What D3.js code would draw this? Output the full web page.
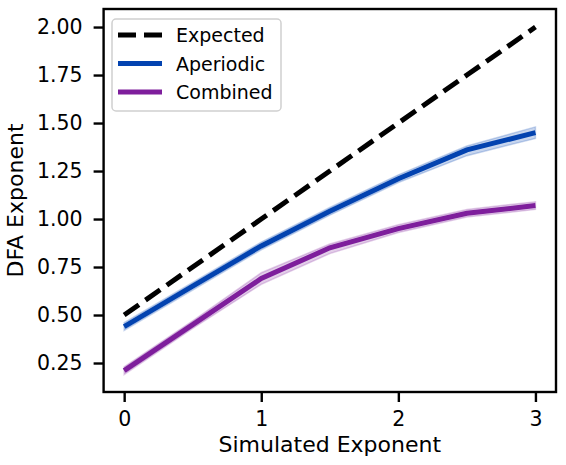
<!DOCTYPE html>
<html>
<head>
<meta charset="utf-8">
<script src="https://cdn.jsdelivr.net/npm/d3@7"></script>
<style>
  body { margin: 0; background: #fff; }
  text { font-family: "DejaVu Sans", sans-serif; fill: #000; }
</style>
</head>
<body>
<svg id="chart" width="566" height="465"></svg>
<script>
// simulated exponents on the x axis
const simExp = [0, 0.5, 1, 1.5, 2, 2.5, 3]
const expected = [0.5, 0.75, 1.0, 1.25, 1.5, 1.75, 2.0]
const aperiodic = [0.44, 0.65, 0.86, 1.04, 1.21, 1.36, 1.45]
const aperiodicLo = [0.42, 0.63, 0.84, 1.02, 1.19, 1.33, 1.42]
const aperiodicHi = [0.46, 0.67, 0.88, 1.06, 1.23, 1.38, 1.48]
const combined = [0.21, 0.45, 0.69, 0.85, 0.95, 1.03, 1.07]
const combinedLo = [0.19, 0.43, 0.66, 0.82, 0.93, 1.01, 1.05]
const combinedHi = [0.23, 0.47, 0.72, 0.87, 0.97, 1.05, 1.09]
const xTicks = [0, 1, 2, 3]
const yTicks = [0.25, 0.5, 0.75, 1.0, 1.25, 1.5, 1.75, 2.0]

const blue = '#0343b0'
const purple = '#7e1e9c'

const svg = d3.select('#chart')
const axLeft = 103.6, axRight = 556, axTop = 9, axBottom = 392

const x = d3.scaleLinear().domain([-0.15, 3.15]).range([axLeft, axRight])
const y = d3.scaleLinear().domain([0.099, 2.094]).range([axBottom, axTop])

// bands first so the lines sit on top
function band(lo, hi, color) {
    const area = d3.area()
        .x((d, i) => x(simExp[i]))
        .y0((d, i) => y(lo[i]))
        .y1((d, i) => y(hi[i]))
    svg.append('path')
        .attr('d', area(lo))
        .attr('fill', color)
        .attr('fill-opacity', 0.22)
        .attr('stroke', color)
        .attr('stroke-opacity', 0.22)
        .attr('stroke-width', 1.5)
}

function line(vals, color, dash) {
    const l = d3.line()
        .x((d, i) => x(simExp[i]))
        .y(d => y(d))
    svg.append('path')
        .attr('d', l(vals))
        .attr('fill', 'none')
        .attr('stroke', color)
        .attr('stroke-width', 5)
        .attr('stroke-dasharray', dash || null)
}

band(aperiodicLo, aperiodicHi, blue)
band(combinedLo, combinedHi, purple)
line(expected, '#000', '18,8')
line(aperiodic, blue)
line(combined, purple)

// axes
const xAxis = svg.append('g')
    .attr('transform', `translate(0,${axBottom})`)
    .call(d3.axisBottom(x).tickValues(xTicks).tickFormat(d3.format('d')).tickSizeOuter(0).tickSize(10).tickPadding(9))
const yAxis = svg.append('g')
    .attr('transform', `translate(${axLeft},0)`)
    .call(d3.axisLeft(y).tickValues(yTicks).tickFormat(d3.format('.2f')).tickSizeOuter(0).tickSize(10).tickPadding(11))

;[xAxis, yAxis].forEach(g => {
    g.select('.domain').remove()
    g.selectAll('line').attr('stroke', '#000').attr('stroke-width', 2.4)
    g.selectAll('text').style('font-size', '20.5px').attr('fill', '#000')
})

// frame
svg.append('rect')
    .attr('x', axLeft).attr('y', axTop)
    .attr('width', axRight - axLeft).attr('height', axBottom - axTop)
    .attr('fill', 'none').attr('stroke', '#000').attr('stroke-width', 2.4)

svg.append('text')
    .attr('x', (axLeft + axRight) / 2).attr('y', 452)
    .attr('text-anchor', 'middle')
    .style('font-size', '22px')
    .text('Simulated Exponent')

svg.append('text')
    .attr('transform', `translate(23,${(axTop + axBottom) / 2}) rotate(-90)`)
    .attr('text-anchor', 'middle')
    .style('font-size', '22px')
    .text('DFA Exponent')

// legend
const legendItems = [
    {name: 'Expected', color: '#000', dash: '18,8'},
    {name: 'Aperiodic', color: blue},
    {name: 'Combined', color: purple}
]
const lg = svg.append('g')
lg.append('rect')
    .attr('x', 112).attr('y', 19).attr('width', 169).attr('height', 92)
    .attr('rx', 4)
    .attr('fill', '#fff').attr('fill-opacity', 0.8)
    .attr('stroke', '#d0d0d0').attr('stroke-width', 1.5)
legendItems.forEach((d, i) => {
    const ly = 35 + i * 28.5
    lg.append('line')
        .attr('x1', 118).attr('x2', 162).attr('y1', ly).attr('y2', ly)
        .attr('stroke', d.color).attr('stroke-width', 5)
        .attr('stroke-dasharray', d.dash || null)
    lg.append('text')
        .attr('x', 176).attr('y', ly + 7)
        .style('font-size', '19px')
        .text(d.name)
})
</script>
</body>
</html>
